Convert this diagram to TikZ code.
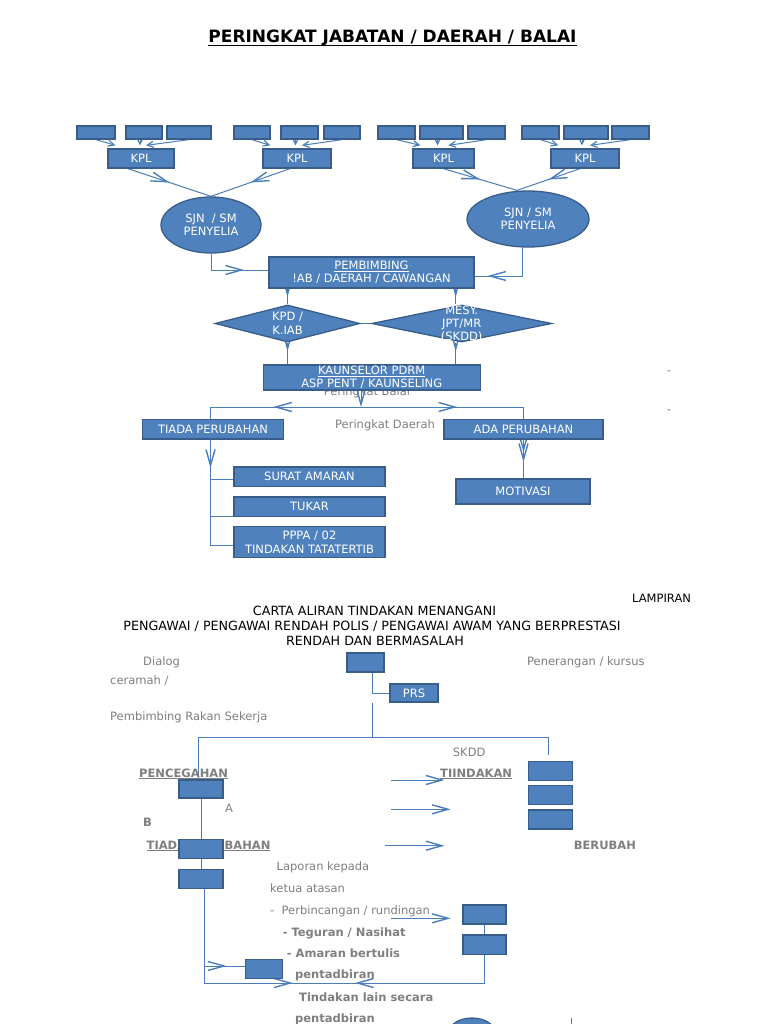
\documentclass[tikz,border=0pt]{standalone}
\usepackage{fontspec}
\setmainfont{DejaVu Sans}
\usetikzlibrary{arrows.meta,shapes.geometric,decorations.markings,calc}
\pgfdeclarelayer{bg}
\pgfsetlayers{bg,main}
\definecolor{bfill}{HTML}{4F81BD}
\definecolor{bdr}{HTML}{385D8A}
\definecolor{lnc}{HTML}{4A7EBB}
\definecolor{gtxt}{HTML}{7F7F7F}
\newcommand{\fsz}{\fontsize{11.5}{13.4}\selectfont}
\tikzset{
  cv/.tip={Straight Barb[length=16pt,width=9pt,line width=1.4pt]},
  cvs/.tip={Straight Barb[length=6pt,width=6pt,line width=1.2pt]},
  bx/.style={draw=bdr, fill=bfill, line width=1.3pt, text=white, font=\fsz, inner sep=0pt, align=center},
  dia/.style={diamond, draw=bdr, fill=bfill, line width=1.3pt, inner sep=0pt},
  ell/.style={ellipse, draw=bdr, fill=bfill, line width=1.3pt, text=white, font=\fsz, inner sep=0pt, align=center},
  wt/.style={text=white, font=\fsz, inner sep=0pt, align=center},
  conn/.style={color=lnc, line width=1pt},
  mid/.style={postaction={decorate}, decoration={markings, mark=at position #1 with {\arrow{cv}}}},
  midtwo/.style={postaction={decorate}, decoration={markings, mark=at position 0.33 with {\arrow{cv}}, mark=at position 0.58 with {\arrow{cv}}}},
  gt/.style={text=gtxt, font=\fsz, inner sep=0pt, anchor=base west},
  gtb/.style={text=gtxt, font=\fsz\bfseries, inner sep=0pt, anchor=base west},
  bk/.style={text=black, font=\fsz, inner sep=0pt, anchor=base},
}
\begin{document}
\begin{tikzpicture}[x=1pt,y=-1pt]
\useasboundingbox (0,0) rectangle (768,1024);
\clip (0,0) rectangle (768,1024);
\begin{pgfonlayer}{bg}
\fill[white] (0,0) rectangle (768,1024);
\node[gt, anchor=base] (pbalai) at (367,395) {Peringkat Balai};
\node[gtb] (tpg) at (146.5,849) {\underline{TIADA PERUBAHAN}};
\end{pgfonlayer}

% title
\node[font=\fontsize{17}{20}\selectfont\bfseries, inner sep=0pt, anchor=base] (title) at (392.5,43) {PERINGKAT JABATAN / DAERAH / BALAI};
\draw[line width=1.5pt] ([yshift=-2.5pt]title.base west) -- ([yshift=-2.5pt]title.base east);

% top small boxes
\foreach \n/\cx/\w in {a1/96/38, a2/144/36, a3/189/44, b1/252/36, b2/299.5/37, b3/342/36,
  c1/396.5/37, c2/441.5/43, c3/486.5/37, d1/540.5/37, d2/586/44, d3/630.5/37}
  \node[bx, minimum width=\w pt, minimum height=13pt] (\n) at (\cx,132.5) {};

% KPL
\node[bx, minimum width=66pt, minimum height=19pt] (k1) at (141,158.5) {KPL};
\node[bx, minimum width=68pt, minimum height=19pt] (k2) at (297,158.5) {KPL};
\node[bx, minimum width=61pt, minimum height=19pt] (k3) at (443.5,158.5) {KPL};
\node[bx, minimum width=68pt, minimum height=19pt] (k4) at (585,158.5) {KPL};

% ellipses
\node[ell, minimum width=100pt, minimum height=56pt] (e1) at (211,225) {SJN\ \ / SM\\PENYELIA};
\node[ell, minimum width=122pt, minimum height=56pt] (e2) at (528,219) {SJN / SM\\PENYELIA};

% pembimbing
\node[bx, minimum width=205pt, minimum height=31pt] (p) at (371.5,272.5) {\underline{PEMBIMBING}\\!AB / DAERAH / CAWANGAN};

% diamonds
\node[dia, minimum width=145pt, minimum height=37pt] (kpd) at (287.5,323.5) {};
\node[dia, minimum width=180pt, minimum height=37pt] (mesy) at (461.7,323.5) {};
\node[wt] (kpdt) at (287.5,323.5) {KPD /\\K.IAB};
\node[wt] (mesyt) at (461.7,324) {MESY.\\JPT/MR\\(SKDD)};

% kaunselor
\node[bx, minimum width=217pt, minimum height=25pt] (ka) at (371.7,377.5) {\underline{KAUNSELOR PDRM}\\ASP PENT / KAUNSELING};

\node[gt] (pdaerah) at (335,428) {Peringkat Daerah};
\node[gt, anchor=center] (dash1) at (669,373) {-};
\node[gt, anchor=center] (dash2) at (669,412) {-};

\node[bx, minimum width=141pt, minimum height=19.3pt] (tiada) at (213,429.4) {TIADA PERUBAHAN};
\node[bx, minimum width=159pt, minimum height=19.3pt] (ada) at (523.5,429.4) {ADA PERUBAHAN};
\node[bx, minimum width=151pt, minimum height=19.7pt] (surat) at (309.5,476.8) {SURAT AMARAN};
\node[bx, minimum width=151pt, minimum height=19.7pt] (tukar) at (309.5,506.8) {TUKAR};
\node[bx, minimum width=151pt, minimum height=31pt] (pppa) at (309.5,542.3) {PPPA / 02\\TINDAKAN TATATERTIB};
\node[bx, minimum width=134pt, minimum height=25pt] (motiv) at (523,491.5) {MOTIVASI};

% lower section texts
\node[bk, anchor=base west] (lamp) at (632,602) {LAMPIRAN};
\node[bk, font=\fontsize{12.7}{14}\selectfont] (cl1) at (374.5,615.5) {CARTA ALIRAN TINDAKAN MENANGANI};
\node[bk, font=\fontsize{12.7}{14}\selectfont] (cl2) at (372,630.5) {PENGAWAI / PENGAWAI RENDAH POLIS / PENGAWAI AWAM YANG BERPRESTASI};
\node[bk, font=\fontsize{12.7}{14}\selectfont] (cl3) at (375,645.5) {RENDAH DAN BERMASALAH};
\node[gt] (dlg) at (143,665) {Dialog};
\node[gt] (cer) at (110,684) {ceramah /};
\node[gt] (prk) at (110,720) {Pembimbing Rakan Sekerja};
\node[gt] (pen) at (527,665) {Penerangan / kursus};
\node[gt] (skdd) at (452.7,756) {SKDD};
\node[gtb] (pcg) at (139,777) {\underline{PENCEGAHAN}};
\node[gtb] (tind) at (440,777) {\underline{TIINDAKAN}};
\node[gt] (la) at (225,812) {A};
\node[gtb] (lbb) at (143,826) {B};
\node[gtb] (ber) at (573.6,849) {BERUBAH};
\node[gt] (lap) at (276.5,870) {Laporan kepada};
\node[gt] (ket) at (270,892) {ketua atasan};
\node[gt] (perb) at (270,914) {-\ \ Perbincangan / rundingan};
\node[gtb] (teg) at (282.6,936) {- Teguran / Nasihat};
\node[gtb] (ama) at (286.7,957.5) {- Amaran bertulis};
\node[gtb] (pen1) at (295,978.5) {pentadbiran};
\node[gtb] (tla) at (299,1001) {Tindakan lain secara};
\node[gtb] (pen2) at (295,1022.5) {pentadbiran};

% lower boxes
\node[bx, minimum width=37pt, minimum height=19pt] (tb) at (365.5,662.5) {};
\node[bx, minimum width=48pt, minimum height=18pt] (prs) at (414,693) {PRS};
\node[bx, minimum width=44pt, minimum height=18pt] (pb) at (201,789) {};
\node[bx, minimum width=44pt, minimum height=19pt] (bbtwo) at (201,848.8) {};
\node[bx, minimum width=44pt, minimum height=19pt] (bbthree) at (201,878.7) {};
\node[bx, minimum width=44pt, minimum height=19pt] (r1) at (550.5,771.2) {};
\node[bx, minimum width=44pt, minimum height=18.6pt] (r2) at (550.5,795) {};
\node[bx, minimum width=44pt, minimum height=19pt] (r3) at (550.5,819.5) {};
\node[bx, minimum width=43pt, minimum height=19pt] (q1) at (484.5,914.5) {};
\node[bx, minimum width=43pt, minimum height=19.3pt] (q2) at (484.5,944.7) {};
\node[bx, minimum width=37pt, minimum height=19pt] (sb) at (264,968.8) {};
\node[ell, minimum width=50pt, minimum height=36pt] (e3) at (472,1036) {};

% coordinates
\coordinate (sp) at (361,407);
\coordinate (tl) at (210.5,407);
\coordinate (tr) at (523.8,407);
\coordinate (tx) at (210.5,450);
\coordinate (mx) at ($(mesy.north)+(-6,0)$);
\coordinate (vx) at (372.8,700);
\coordinate (g2) at (372.8,703);
\coordinate (hj) at (372.8,737);
\coordinate (hl) at (198.6,737);
\coordinate (hr) at (548,737);
\coordinate (hre) at (548,755);
\coordinate (lx) at (201.5,800);
\coordinate (bxx) at (204,900);
\coordinate (meet) at (325,983);
\coordinate (sbs) at (204,966);
\coordinate (f1s) at (391,780);
\coordinate (f1e) at (444.5,780);
\coordinate (f2s) at (391,809.3);
\coordinate (f2e) at (450.7,809.3);
\coordinate (f3s) at (385,845.7);
\coordinate (f3e) at (444.5,845.7);
\coordinate (f4s) at (391,918.3);
\coordinate (f4e) at (450.7,918.3);
\coordinate (z1) at (571,1018);
\coordinate (z2) at (571,1024);

\begin{pgfonlayer}{bg}
% small arrows into KPL
\foreach \L/\M/\R/\K in {a1/a2/a3/k1, b1/b2/b3/k2, c1/c2/c3/k3, d1/d2/d3/k4}{
  \draw[conn,-{cvs}] (\L.south) -- ($(\K.north west)+(8,-3)$);
  \draw[conn,-{cvs}] ($(\M.south)+(-4,0)$) -- ($(\M.south |- \K.north)+(-4,-3)$);
  \draw[conn,-{cvs}] (\R.south) -- ($(\K.north)+(5,-3)$);
}
% KPL to ellipses
\draw[conn, mid=0.5] ($(k1.south)+(-13,0)$) -- (e1.north);
\draw[conn, mid=0.5] ($(k2.south)+(-7,0)$) -- (e1.north);
\draw[conn, mid=0.5] (k3.south) -- ($(e2.north)+(-11,0)$);
\draw[conn, mid=0.5] ($(k4.south)+(-5,0)$) -- ($(e2.north)+(-11,0)$);
% ellipses to pembimbing
\draw[conn, mid=0.67] (e1.south) |- ($(p.west)+(0,-2.5)$);
\draw[conn, mid=0.83] ($(e2.south)+(-6,0)$) |- ($(p.east)+(0,3.5)$);
% pembimbing to diamonds
\draw[conn, mid=0.53] (p.south -| kpd.north) -- (kpd.north);
\draw[conn, mid=0.53] (p.south -| mx) -- (mx);
\draw[conn] (kpd.east) -- (mesy.west);
% diamonds to kaunselor
\draw[conn, mid=0.4] (kpd.south) -- (kpd.south |- ka.north);
\draw[conn, mid=0.4] (mx |- mesy.south) -- (mx |- ka.north);
% kaunselor split
\draw[conn, -{cv}] (sp |- ka.south) -- (sp);
\draw[conn, mid=0.54] (sp) -- (tl) -- (tl |- tiada.north);
\draw[conn, mid=0.55] (sp) -- (tr) -- (tr |- ada.north);
% tiada branches
\draw[conn, mid=0.22] (tx |- tiada.south) -- ([yshift=-3.4pt]tx |- pppa.west) -- ([yshift=-3.4pt]pppa.west);
\draw[conn] ([yshift=-2.5pt]tx |- surat.west) -- ([yshift=-2.5pt]surat.west);
\draw[conn] ([yshift=1pt]tx |- tukar.south) -- ([yshift=1pt]tukar.south west);
% ada to motivasi
\draw[conn, midtwo] (ada.south) -- (ada.south |- motiv.north);

% lower connectors
\draw[conn] (vx |- tb.south) -- (vx |- prs.west) -- (prs.west);
\draw[conn] (g2) -- (hj);
\draw[conn] (hl |- pb.north) -- (hl) -- (hr) -- (hre);
\draw[conn] (lx |- pb.south) -- (lx |- bbthree.north);
\draw[conn, mid=0.85] (bxx |- bbthree.south) |- (meet);
\draw[conn, mid=0.84] (q2.south) |- (meet);
\draw[conn, mid=0.55] (sbs) -- (sbs -| sb.west);
\draw[conn] (q1.south) -- (q2.north);
\draw[conn, -{cv}] (f1s) -- (f1e);
\draw[conn, -{cv}] (f2s) -- (f2e);
\draw[conn, -{cv}] (f3s) -- (f3e);
\draw[conn, -{cv}] (f4s) -- (f4e);
\draw[conn] (z1) -- (z2);
\end{pgfonlayer}
\end{tikzpicture}
\end{document}
